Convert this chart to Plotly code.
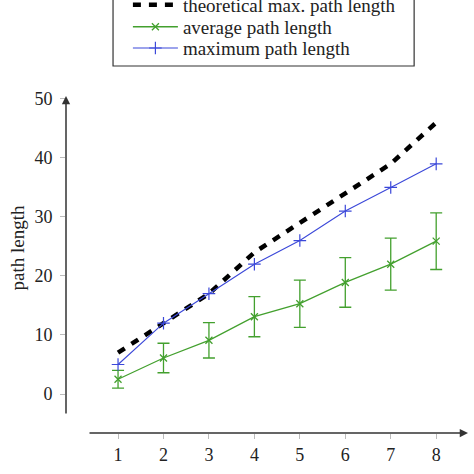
import plotly.graph_objects as go

dims = [1, 2, 3, 4, 5, 6, 7, 8]
theoretical_max = [7, 12, 17, 24, 29, 34, 39, 46]
avg_len = [2.5, 6.1, 9.1, 13.1, 15.3, 18.9, 22.0, 25.9]
avg_std = [1.5, 2.5, 3.0, 3.4, 4.0, 4.2, 4.4, 4.8]
max_len = [5, 12, 17, 22, 26, 31, 35, 39]
y_ticks = [0, 10, 20, 30, 40, 50]

FONT = "Liberation Serif"
BLUE = "#3b48d9"
GREEN = "#43a02e"

fig = go.Figure()
fig.add_trace(go.Scatter(
    x=dims, y=theoretical_max, mode="lines", name="theoretical max. path length",
    line=dict(color="black", width=4.5, dash="8px,8px"), legend="legend"))
fig.add_trace(go.Scatter(
    x=dims, y=avg_len, mode="lines+markers", name="average path length",
    line=dict(color=GREEN, width=1.3),
    marker=dict(symbol="x-thin", size=7, line=dict(color=GREEN, width=1.3)),
    error_y=dict(type="data", array=avg_std, color=GREEN, thickness=1.3, width=6),
    legend="legend2"))
fig.add_trace(go.Scatter(
    x=dims, y=max_len, mode="lines+markers", name="maximum path length",
    line=dict(color=BLUE, width=1.1),
    marker=dict(symbol="cross-thin", size=9, line=dict(color=BLUE, width=1.2)),
    legend="legend3"))

leg_common = dict(x=0.154, xanchor="left", yanchor="middle", bgcolor="rgba(0,0,0,0)",
                  borderwidth=0, font=dict(family=FONT, size=19, color="#222"),
                  itemwidth=45)

fig.update_layout(
    width=474, height=474,
    margin=dict(l=66, r=6, t=96, b=41, autoexpand=False),
    paper_bgcolor="white", plot_bgcolor="white",
    font=dict(family=FONT, size=18, color="#222"),
    showlegend=True,
    legend=dict(y=1.270, **leg_common),
    legend2=dict(y=1.205, **leg_common),
    legend3=dict(y=1.142, **leg_common),
    xaxis=dict(range=[-0.145, 8.70], tickvals=dims, showgrid=False, zeroline=False,
               showline=False, ticks="outside", ticklen=5, tickcolor="#bbb",
               tickfont=dict(family=FONT, size=18)),
    yaxis=dict(range=[-6.61, 50.5], tickvals=y_ticks, showgrid=False, zeroline=False,
               showline=False, ticks="outside", ticklen=5, tickcolor="#bbb",
               ticklabelstandoff=4, tickfont=dict(family=FONT, size=18)),
)

# legend frame
fig.add_shape(type="rect", xref="paper", yref="paper", x0=0.117, x1=0.866, y0=1.089, y1=1.32,
              line=dict(color="#333", width=1.2), fillcolor="rgba(0,0,0,0)", layer="below")

# axis lines with arrows
fig.add_annotation(xref="paper", yref="y", x=0, y=50.5, axref="pixel", ayref="pixel",
                   ax=0, ay=319, showarrow=True, arrowhead=2, arrowsize=1.1,
                   arrowwidth=1.5, arrowcolor="#333", text="")
fig.add_annotation(xref="x", yref="paper", x=8.70, y=0, axref="pixel", ayref="pixel",
                   ax=-380, ay=0, showarrow=True, arrowhead=2, arrowsize=1.1,
                   arrowwidth=1.5, arrowcolor="#333", text="")

fig.add_annotation(xref="paper", yref="paper", x=-0.12, y=0.55, text="path length",
                   textangle=-90, showarrow=False, xanchor="center", yanchor="middle",
                   font=dict(family=FONT, size=19))
fig.add_annotation(xref="x", yref="paper", x=4.5, y=-0.108, text="FCT dimension (n)",
                   showarrow=False, xanchor="center", yanchor="top",
                   font=dict(family=FONT, size=19))

fig.write_html("out.html")
